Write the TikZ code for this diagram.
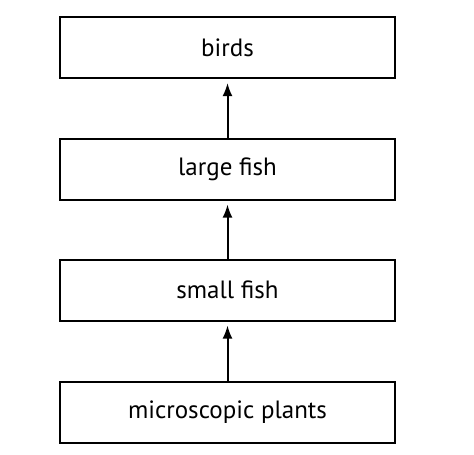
\documentclass[tikz,border=0pt]{standalone}
\usepackage{fontspec}
\setmainfont{PT Sans}
\usetikzlibrary{arrows.meta}

\tikzset{
    level/.style={draw, line width=2pt, minimum width=335pt, minimum height=61pt,
        inner sep=0pt, font=\fontsize{25}{30}\selectfont},
    feeds/.style={line width=2pt, -{Latex[length=13pt,width=10pt]}, shorten >=4pt}
}

\begin{document}
\begin{tikzpicture}[x=1pt,y=-1pt]
        \useasboundingbox (0,0) rectangle (474,455);

        \node[level] (birds) at (227.5,47.5) {birds};
        \node[level] (large) at (227.5,169) {large fish};
        \node[level] (small) at (227.5,290) {small fish};
        \node[level] (plants) at (227.5,412) {microscopic plants};

        \draw[feeds] (large) -- (birds);
        \draw[feeds] (small) -- (large);
        \draw[feeds] (plants) -- (small);
    \end{tikzpicture}
\end{document}
